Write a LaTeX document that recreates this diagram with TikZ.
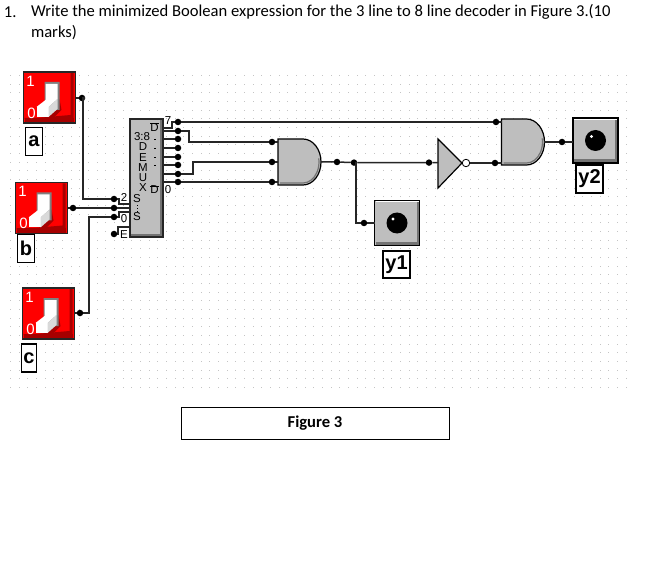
\documentclass[tikz,border=0pt]{standalone}
\usepackage{fontspec}
\setmainfont{Carlito}
\newfontfamily\pinfont{Liberation Sans}
\usetikzlibrary{positioning}
\definecolor{panel}{HTML}{BEBEBE}
\definecolor{griddot}{HTML}{C4C4C4}
\tikzset{x=1pt, y=-1pt, outer sep=0pt, inner sep=0pt, line join=miter}
\tikzstyle{wire} = [line width=1.5pt, black!85]
\tikzstyle{jn} = [circle, fill=black, minimum size=6.5pt]
\tikzstyle{toggle} = [draw=black!85, line width=1.5pt, fill=red, minimum width=52pt, minimum height=51pt]
\tikzstyle{lamp} = [draw=black, line width=1.5pt, fill=panel, minimum width=45pt, minimum height=45pt]
\tikzstyle{tag} = [draw=black, line width=1.2pt, fill=white, font=\pinfont\bfseries\fontsize{20}{20}\selectfont]
\tikzstyle{pinlabel} = [font=\pinfont\fontsize{11.5}{11.5}\selectfont]
\tikzstyle{headtext} = [anchor=west, font=\fontsize{16.6}{16.6}\selectfont]
\tikzstyle{gatebody} = [draw=black, line width=1.2pt, fill=panel]
\newcommand{\togglebody}[1]{
	\begin{scope}[shift={(#1.north west)}]
		\fill [red!65!black] (1,46) -- (50,46) -- (50,1) -- (47,1) -- (47,43) -- (1,47) -- cycle;
		\fill [red!65!black] (1,46) rectangle (50,50);
		\fill [red!65!black] (36,27) -- (38,38) -- (28,48) -- (24,45) -- cycle;
		\fill [gray] (21,10) -- (36,10) -- (36,38) -- (25,38) -- (21,28) -- cycle;
		\fill [white] (22,12) -- (34,12) -- (34,27) -- (25,35) -- (13,35) -- (22,28) -- cycle;
		\fill [white] (13,35) -- (25,35) -- (25,45) -- (13,45) -- cycle;
		\fill [black!15] (25,35) -- (34,27) -- (34,37) -- (25,45) -- cycle;
		\node [white, font=\pinfont\fontsize{15}{15}\selectfont] (#1one) at (7,9) {1};
		\node [white, font=\pinfont\fontsize{15}{15}\selectfont] (#1zero) at (8,41) {0};
	\end{scope}
}
\newcommand{\lampbody}[1]{
	\fill [black!55] ([shift={(1,-4)}]#1.south west) rectangle ([shift={(-1,-1)}]#1.south east);
	\fill [black!55] ([shift={(-3,1)}]#1.north east) rectangle ([shift={(-1,-1)}]#1.south east);
	\fill [white] ([shift={(1,1)}]#1.north west) rectangle ([shift={(-1,2)}]#1.north east);
	\node [circle, fill=black, minimum size=21pt] (#1bulb) at (#1) {};
	\fill [white] ([shift={(-4,-4)}]#1bulb.center) circle (1.6);
}
\newcommand{\andbody}[1]{
	\draw [gatebody] (#1.north west) -- ([xshift=25pt]#1.north west) arc [start angle=90, end angle=-90, x radius=18pt, y radius=23pt] -- (#1.south west) -- cycle;
	\draw [black!55, line width=1.2pt] ([shift={(2,-2)}]#1.south west) -- ([shift={(25,-2)}]#1.south west) arc [start angle=-90, end angle=10, x radius=16pt, y radius=21pt];
}
\begin{document}
\begin{tikzpicture}
	\useasboundingbox [fill=white] (0,0) rectangle (655,569);

	% dotted sheet
	\foreach \row in {0,...,36}
		\foreach \col in {0,...,71}
			\fill [griddot] ({10+\col*8.67},{75+\row*8.67}) rectangle +(1,1);

	\node [headtext] (num) at (4,12) {1.};
	\node [headtext] (line1) at (31,12) {Write the minimized Boolean expression for the 3 line to 8 line decoder in Figure 3.(10};
	\node [headtext] (line2) at (31,33) {marks)};

	% switches
	\node [toggle] (a) at (49.5,97.5) {};
	\node [toggle] (b) at (41.5,208) {};
	\node [toggle] (c) at (48.5,313.5) {};
	\togglebody{a}
	\togglebody{b}
	\togglebody{c}
	\node [tag, minimum width=17pt, minimum height=28pt, below=4.5pt of a.south west, anchor=north west, xshift=2pt] (la) {a};
	\node [tag, minimum width=17pt, minimum height=28pt, below=1pt of b.south west, anchor=north west, xshift=2pt] (lb) {b};
	\node [tag, minimum width=15pt, minimum height=28pt, below=5pt of c.south west, anchor=north west, xshift=-1pt] (lc) {c};

	% decoder
	\node [draw=black!85, line width=1.5pt, fill=panel, minimum width=33pt, minimum height=118pt] (demux) at (146.5,178) {};
	\fill [black!55] ([shift={(-3,1)}]demux.north east) rectangle ([shift={(-1,-1)}]demux.south east);
	\fill [black!55] ([shift={(1,-3)}]demux.south west) rectangle ([shift={(-1,-1)}]demux.south east);
	\node [pinlabel] (dtop) at (154.5,127.5) {D};
	\node [pinlabel] (dbot) at (154.5,190) {D};
	\draw [line width=0.9pt] (dtop.north west) -- (dtop.north east);
	\draw [line width=0.9pt] (dbot.north west) -- (dbot.north east);
	\node [pinlabel] (ratio) at (142,137) {3:8};
	\node [pinlabel] (tD) at (143,147) {D};
	\node [pinlabel] (tE) at (143,157.5) {E};
	\node [pinlabel] (tM) at (143,168) {M};
	\node [pinlabel] (tU) at (143,178) {U};
	\node [pinlabel] (tX) at (143,188) {X};
	\foreach \y in {139,148,157,165}
		\fill (154,\y) rectangle +(1.5,1.5);
	\node [pinlabel] (s2) at (137,199) {S};
	\node [pinlabel] (s0) at (137,217) {S};
	\foreach \y in {205,208,211}
		\fill (136.5,\y) rectangle +(1.2,1.2);
	\node [pinlabel] (p2) at (124,197) {2};
	\node [pinlabel] (p0) at (124,219) {0};
	\node [pinlabel] (pE) at (124,235) {E};
	\node [pinlabel] (p7) at (168,121) {7};
	\node [pinlabel] (pz) at (168,190) {0};

	% junctions
	\node [jn] (ja) at (82,98) {};
	\node [jn] (jb) at (73,208) {};
	\node [jn] (jc) at (80,313) {};
	\node [jn] (i2) at (114,199) {};
	\node [jn] (i1) at (114,208) {};
	\node [jn] (i0) at (114,217) {};
	\node [jn] (ie) at (114,234) {};
	\foreach \n/\y in {o7/122,o6/131,o5/139,o4/148,o3/157,o2/165,o1/174,o0/182}
		\node [jn] (\n) at (178,\y) {};

	% gates
	\node [minimum width=43pt, minimum height=46pt] (and1) at (299.5,162) {};
	\node [minimum width=43pt, minimum height=46pt] (and2) at (523,142) {};
	\andbody{and1}
	\andbody{and2}
	\node [jn] (g1a) at (272,142) {};
	\node [jn] (g1b) at (272,162) {};
	\node [jn] (g1c) at (272,182) {};
	\node [jn] (g1o) at (337,162) {};
	\node [jn] (split) at (354,162.6) {};
	\node [jn] (invi) at (429,162.6) {};
	\node [jn] (g2a) at (496,122) {};
	\node [jn] (g2b) at (495,163) {};
	\node [jn] (g2o) at (562,142) {};
	\node [jn] (y1i) at (364,223) {};
	\draw [gatebody] (438,139) coordinate (inv1) -- (462,163) coordinate (inv2) -- (438,188) coordinate (inv3) -- cycle;
	\node [circle, draw=black, line width=0.8pt, fill=white, minimum size=7.5pt] (bub) at (466,163) {};

	% lamps
	\node [lamp] (y1) at (397,223) {};
	\node [lamp] (y2) at (595.5,140.5) {};
	\lampbody{y1}
	\lampbody{y2}
	\node [tag, minimum width=27pt, minimum height=27pt] (ly1) at (396.5,264.5) {y1};
	\node [tag, minimum width=27pt, minimum height=28pt] (ly2) at (589.5,179) {y2};

	% caption
	\node [draw=black, line width=0.8pt, minimum width=268pt, minimum height=32pt, font=\bfseries\fontsize{16.6}{16.6}\selectfont] (cap) at (315,423) {\raisebox{-2pt}{Figure 3}};

	% wires
	\draw [wire] (a.east |- ja) -- (ja) -- (83,98) |- (i2);
	\draw [wire] (b.east |- jb) -- (jb) -- (i1);
	\draw [wire] (c.east |- jc) -- (jc) -- (89,313) |- (i0);
	\draw [wire] (i2) -- (119,199) |- (demux.west |- 0,204);
	\draw [wire] (i1) -- (demux.west |- i1);
	\draw [wire] (i0) -- (119,217) |- (demux.west |- 0,212);
	\draw [wire] (ie) -- (118,234) |- (demux.west |- 0,227);

	\draw [wire] (demux.east |- 0,128) -- (172,128) |- (o7);
	\foreach \n in {o6,o5,o4,o3,o2,o1,o0}
		\draw [wire] (demux.east |- \n) -- (\n);

	\draw [wire] (o7) -- (g2a) -- (and2.west |- g2a);
	\draw [wire] (o6) -- (189,131) |- (g1a) -- (and1.west |- g1a);
	\draw [wire] (o1) -- (193,174) |- (g1b) -- (and1.west |- g1b);
	\draw [wire] (o0) -- (g1c) -- (and1.west |- g1c);

	\draw [wire] (321,162) -- (g1o) -- (split) -- (invi) -- (inv1 |- invi);
	\draw [wire] (split) -- (356,162.6) |- (y1i) -- (y1.west |- y1i);
	\draw [wire] (bub) -- (g2b) -- (and2.west |- g2b);
	\draw [wire] (544,142) -- (g2o) -- (y2.west |- g2o);
\end{tikzpicture}
\end{document}
